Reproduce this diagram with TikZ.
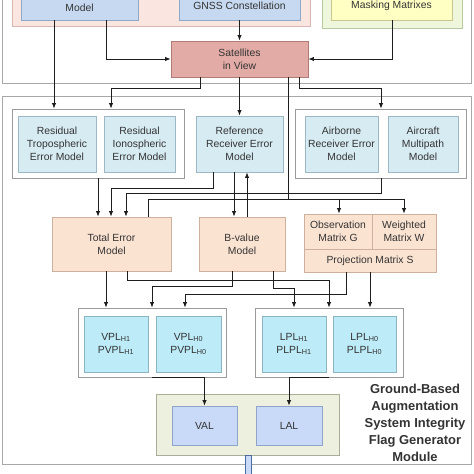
\documentclass[tikz,border=0pt]{standalone}
\usepackage{fontspec}
\setmainfont{Liberation Sans}
\usetikzlibrary{arrows.meta}
\definecolor{txtc}{HTML}{333333}
\definecolor{regiond}{HTML}{A8A8A8}
\definecolor{grpd}{HTML}{9A9A9A}
\definecolor{topbluef}{HTML}{C6D9F0}\definecolor{topblued}{HTML}{8EA9C8}
\definecolor{pinkf}{HTML}{FBE5E0}\definecolor{pinkd}{HTML}{D8B8B0}
\definecolor{greenf}{HTML}{EEF7DC}\definecolor{greend}{HTML}{B8C8A0}
\definecolor{yellowf}{HTML}{FFFFC4}\definecolor{yellowd}{HTML}{C8C890}
\definecolor{satf}{HTML}{E2ABA6}\definecolor{satd}{HTML}{B07C78}
\definecolor{lbluef}{HTML}{D7EBF2}\definecolor{lblued}{HTML}{9DB8C4}
\definecolor{peachf}{HTML}{FBE3D2}\definecolor{peachd}{HTML}{CDB19E}
\definecolor{cyanf}{HTML}{BDEBF7}\definecolor{cyand}{HTML}{8CB3C0}
\definecolor{alf}{HTML}{C9D9F8}\definecolor{ald}{HTML}{8FA4C8}
\definecolor{alertf}{HTML}{EDF0DF}\definecolor{alertd}{HTML}{A8AE98}
\definecolor{bard}{HTML}{506C9C}
\definecolor{linec}{HTML}{1E1E1E}
\begin{document}
\begin{tikzpicture}[x=1bp,y=-1bp,
  bx/.style={rectangle, inner sep=0pt, align=center, text=txtc,
    font=\fontsize{10.4}{13}\selectfont, line width=0.8pt},
  sz/.style 2 args={minimum width=#1bp, minimum height=#2bp},
  region/.style={bx, draw=regiond, fill=white, line width=1pt},
  grp/.style={bx, draw=grpd, fill=white},
  topblue/.style={bx, fill=topbluef, draw=topblued},
  lblue/.style={bx, fill=lbluef, draw=lblued},
  peach/.style={bx, fill=peachf, draw=peachd},
  cyanbox/.style={bx, fill=cyanf, draw=cyand},
  albox/.style={bx, fill=alf, draw=ald},
  ln/.style={draw=linec, line width=0.9pt},
  arr/.style={ln, -{Latex[length=5.5pt,width=4.5pt]}},
  txt/.style={text=txtc, font=\fontsize{10.4}{13}\selectfont, inner sep=0pt, align=center}]
\useasboundingbox (0,0) rectangle (474,474);
\clip (0,0) rectangle (474,474);
\fill[white] (0,0) rectangle (474,474);

% helper coordinates
\foreach \v in {54,98,106,111,126,127,148,152,185,200,213,232,234,247,273,288,294,299,329,339,346,370,381,392,404}{\coordinate (x\v) at (\v,0);}
\foreach \v in {88,188,193,199,280,286,288,294}{\coordinate (y\v) at (0,\v);}

% regions
\node[region, sz={468}{120}] (topreg) at (237,24) {};
\node[region, sz={468}{367}] (midreg) at (237,280.5) {};

% top part
\node[bx, fill=pinkf, draw=pinkd, sz={298}{76}] (pinkgrp) at (161,-12) {};
\node[topblue, sz={117}{60}] (orbit) at (79.5,-10) {};
\node[txt] (orbitlbl) at (79.5,8) {Model};
\node[topblue, sz={121}{60}] (gnss) at (239.5,-10) {};
\node[txt] (gnsslbl) at (239.5,5.5) {GNSS Constellation};
\node[bx, fill=greenf, draw=greend, sz={140}{78}] (greengrp) at (392,-11) {};
\node[bx, fill=yellowf, draw=yellowd, sz={121}{60}] (mask) at (391.5,-10) {};
\node[txt] (masklbl) at (391.5,5.5) {Masking Matrixes};
\node[bx, fill=satf, draw=satd, sz={137}{36}] (sat) at (239.5,59) {Satellites\\in View};

% error models
\node[grp, sz={172}{69}] (resgrp) at (98,143.5) {};
\node[lblue, sz={78}{56}] (tropo) at (57,144) {Residual\\Tropospheric\\Error Model};
\node[lblue, sz={71}{56}] (iono) at (139.5,144) {Residual\\Ionospheric\\Error Model};
\node[lblue, sz={87}{56}] (refrx) at (239.5,144) {Reference\\Receiver Error\\Model};
\node[grp, sz={171}{69}] (airgrp) at (380.5,143.5) {};
\node[lblue, sz={73}{56}] (airrx) at (341.5,144) {Airborne\\Receiver Error\\Model};
\node[lblue, sz={70}{56}] (multi) at (423,144) {Aircraft\\Multipath\\Model};

% middle row
\node[peach, sz={119}{54}] (total) at (111.5,244) {Total Error\\Model};
\node[peach, sz={86}{54}] (bval) at (242,244) {B-value\\Model};
\node[peach, sz={68}{35}] (obs) at (338,231.5) {Observation\\Matrix G};
\node[peach, sz={64}{35}] (wei) at (404,231.5) {Weighted\\Matrix W};
\node[peach, sz={132}{23}] (proj) at (370,260.5) {Projection Matrix S};

% protection levels
\node[grp, sz={148}{69}] (vplgrp) at (152,342.5) {};
\node[cyanbox, sz={64}{56}] (vplh1) at (116,344) {VPL\textsubscript{H1}\\PVPL\textsubscript{H1}};
\node[cyanbox, sz={65}{56}] (vplh0) at (188.5,344) {VPL\textsubscript{H0}\\PVPL\textsubscript{H0}};
\node[grp, sz={148}{69}] (lplgrp) at (329,342.5) {};
\node[cyanbox, sz={64}{56}] (lplh1) at (294,344) {LPL\textsubscript{H1}\\PLPL\textsubscript{H1}};
\node[cyanbox, sz={63}{56}] (lplh0) at (364.5,344) {LPL\textsubscript{H0}\\PLPL\textsubscript{H0}};

% alert limits
\node[bx, fill=alertf, draw=alertd, sz={183}{61}] (alertgrp) at (247.5,424.5) {};
\node[albox, sz={65}{39}] (val) at (204.5,425.5) {VAL};
\node[albox, sz={66}{39}] (lal) at (289,425.5) {LAL};
\node[bx, fill=alf, draw=bard, sz={6}{26}] (bar) at (248,468) {};

\node[text=txtc, font=\fontsize{13}{17}\selectfont\bfseries, align=center, inner sep=0pt] (title) at (415,423)
  {Ground-Based\\Augmentation\\System Integrity\\Flag Generator\\Module};

% connectors: top
\draw[arr] (orbit.south -| x106) |- (sat.west);
\draw[arr] (gnss.south) -- (sat.north);
\draw[arr] (mask.south -| x392) |- (sat.east);
\draw[arr] (orbit.south -| x54) -- (resgrp.north -| x54);
\draw[arr] (sat.south -| x200) |- (x111 |- y88) -- (resgrp.north -| x111);
\draw[arr] (sat.south) -- (refrx.north);
\draw[ln] (sat.south -| x288) -- (x288 |- y199);
\draw[arr] (sat.south -| x299) |- (x381 |- y88) -- (airgrp.north -| x381);

% connectors: error models to middle row
\draw[arr] (resgrp.south -| x98) -- (total.north -| x98);
\draw[arr] (refrx.south -| x213) |- (x111 |- y188) -- (total.north -| x111);
\draw[arr] (airgrp.south -| x381) |- (x126 |- y193) -- (total.north -| x126);
\draw[ln] (total.north -| x148) |- (x404 |- y199);
\draw[arr] (x339 |- y199) -- (obs.north -| x339);
\draw[arr] (x404 |- y199) -- (wei.north);
\draw[arr] (refrx.south -| x234) -- (bval.north -| x234);
\draw[arr] (bval.north -| x247) -- (refrx.south -| x247);

% connectors: middle row to protection levels
\draw[arr] (total.south -| x106) -- (vplgrp.north -| x106);
\draw[arr] (total.south -| x127) |- (x329 |- y280) -- (lplgrp.north -| x329);
\draw[arr] (bval.south -| x232) |- (x152 |- y286) -- (vplgrp.north);
\draw[arr] (bval.south -| x273) |- (x294 |- y288) -- (lplgrp.north -| x294);
\draw[arr] (proj.south -| x346) |- (x185 |- y294) -- (vplgrp.north -| x185);
\draw[arr] (proj.south -| x370) -- (lplgrp.north -| x370);

% connectors: to alert limits
\draw[arr] (vplgrp.south -| x152) -| (val.north);
\draw[arr] (lplgrp.south -| x329) -| (lal.north);
\end{tikzpicture}
\end{document}
